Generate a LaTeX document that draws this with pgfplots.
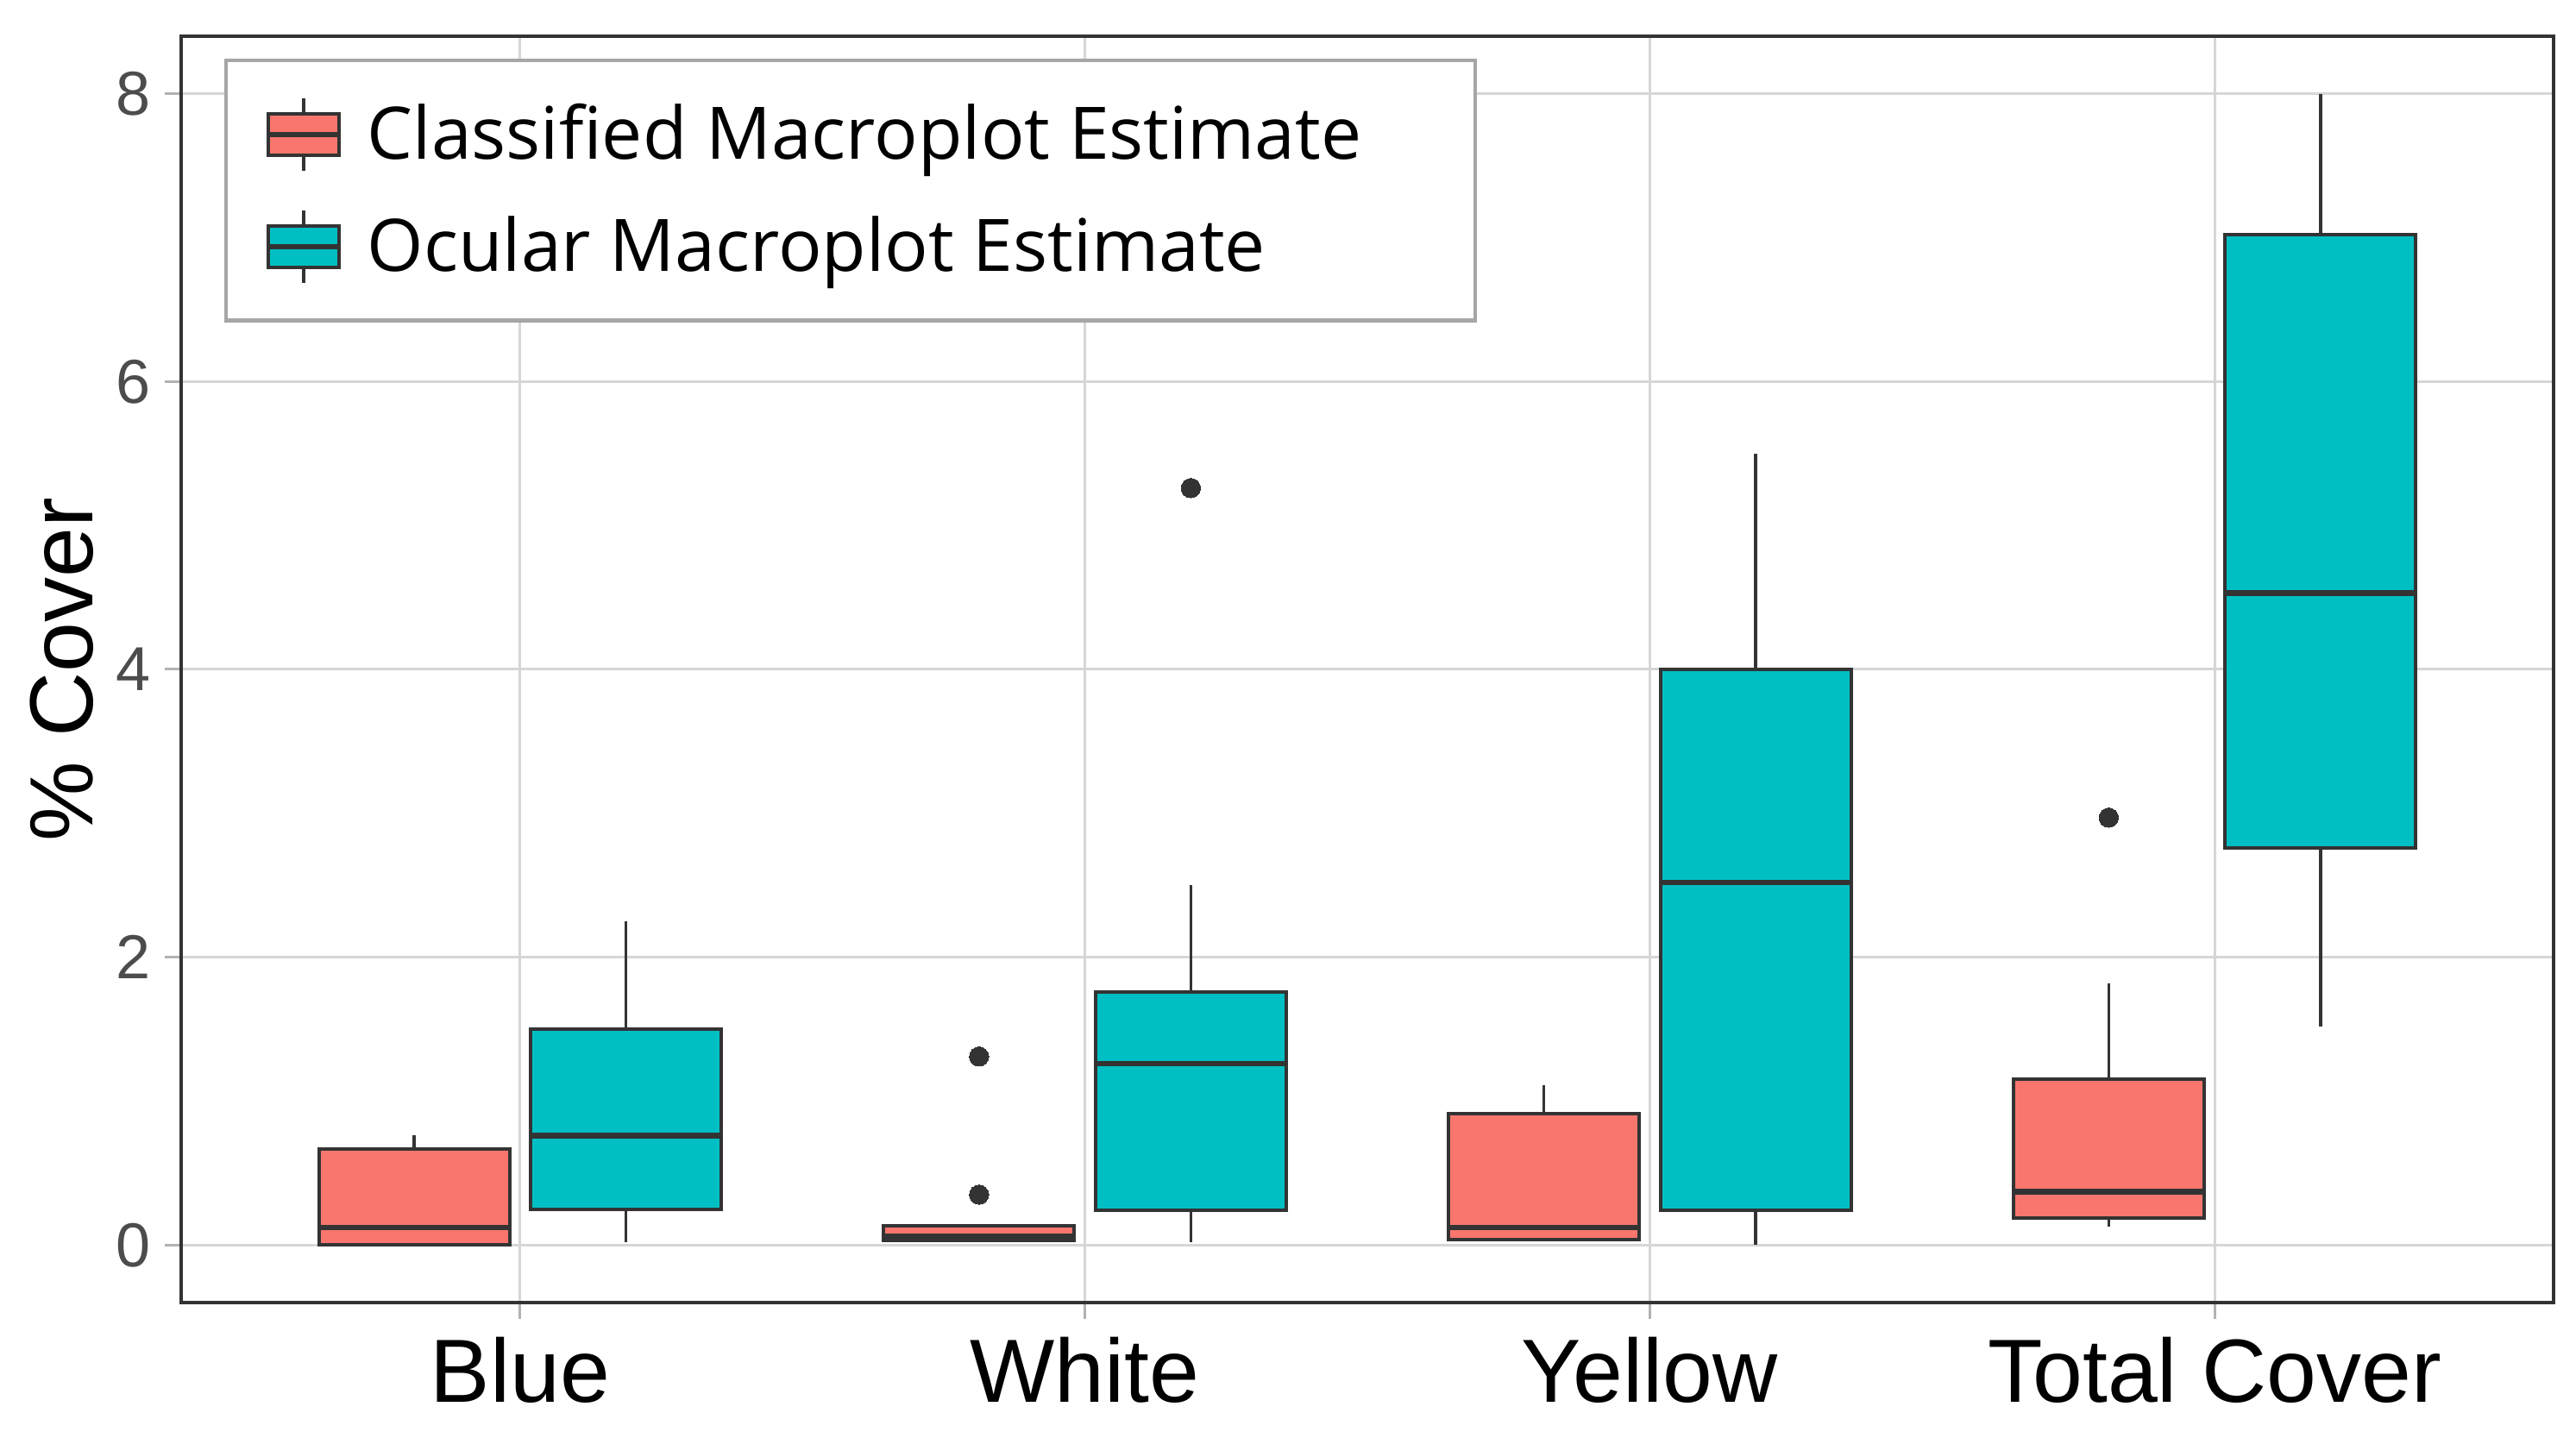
\documentclass[border=0pt]{standalone}
\usepackage{pgfplots}
\pgfplotsset{compat=1.18}
\usepgfplotslibrary{statistics}
\usepackage{fontspec}
\setmainfont{Liberation Sans}
\newfontfamily\legendfont{Open Sans}
\definecolor{cred}{HTML}{F8766D}
\definecolor{cteal}{HTML}{00BFC4}
\definecolor{edge}{HTML}{333333}

\newcommand\keyimg[1]{%
  \draw[edge, line width=0.8pt] (10.25pt,-10.5pt) -- (10.25pt,10.5pt);
  \draw[edge, line width=1pt, fill=#1] (0pt,-6pt) rectangle (20.5pt,6pt);
  \draw[edge, line width=1.4pt] (0pt,0pt) -- (20.5pt,0pt);}

\begin{document}
\begin{tikzpicture}
\begin{axis}[
  name=ax, scale only axis, width=687.5pt, height=367pt,
  xmin=0.4, xmax=4.6, ymin=-0.4, ymax=8.4,
  xtick={1,2,3,4}, xticklabels={Blue,White,Yellow,Total Cover},
  ytick={0,2,4,6,8},
  xtick pos=bottom, ytick pos=left,
  tick align=outside, major tick length=4.75pt,
  tick style={black!30, line width=0.75pt},
  xmajorgrids, ymajorgrids,
  major grid style={black!16, line width=0.75pt},
  axis line style={edge, line width=1pt},
  /pgf/number format/assume math mode=true,
  yticklabel style={font=\fontsize{18}{20}\selectfont, text=black!70, inner sep=0pt, xshift=-4pt},
  xticklabel style={font=\fontsize{26}{30}\selectfont, inner sep=0pt, yshift=-5pt},
  ylabel={\% Cover},
  ylabel style={font=\fontsize{26}{30}\selectfont, at={(axis description cs:-0.0502,0.5)}, anchor=center},
  boxplot/draw direction=y,
  boxplot/box extend=0.3375, boxplot/whisker extend=0,
  boxplot/every whisker/.style={line width=0.85pt},
  boxplot/every median/.style={line width=1.6pt},
  legend style={at={(axis description cs:0.0182,0.9823)}, anchor=north west,
    draw=black!35, line width=1.1pt, fill=white,
    inner xsep=11.5pt, inner ysep=10.5pt, row sep=10.75pt, column sep=7.5pt,
    nodes={inner sep=0pt},
    font=\legendfont\fontsize{21}{25}\selectfont},
  legend cell align=left,
  every axis plot/.append style={draw=edge, line width=1pt, forget plot,
    mark=*, mark size=2.8pt, mark options={fill=edge, draw=edge, line width=0pt}},
]
% Blue
\addplot[boxplot prepared={draw position=0.8125, lower whisker=0, lower quartile=0, median=0.12, upper quartile=0.67, upper whisker=0.76},
  fill=cred] coordinates {};
\addplot[boxplot prepared={draw position=1.1875, lower whisker=0.02, lower quartile=0.25, median=0.76, upper quartile=1.5, upper whisker=2.25},
  fill=cteal] coordinates {};
% White
\addplot[boxplot prepared={draw position=1.8125, lower whisker=0.03, lower quartile=0.03, median=0.06, upper quartile=0.134, upper whisker=0.134},
  fill=cred] coordinates {(0,1.31) (0,0.35)};
\addplot[boxplot prepared={draw position=2.1875, lower whisker=0.02, lower quartile=0.24, median=1.26, upper quartile=1.76, upper whisker=2.5},
  fill=cteal] coordinates {(0,5.26)};
% Yellow
\addplot[boxplot prepared={draw position=2.8125, lower whisker=0.035, lower quartile=0.035, median=0.12, upper quartile=0.91, upper whisker=1.11},
  fill=cred] coordinates {};
\addplot[boxplot prepared={draw position=3.1875, lower whisker=0.0, lower quartile=0.24, median=2.52, upper quartile=4.0, upper whisker=5.5},
  fill=cteal] coordinates {};
% Total Cover
\addplot[boxplot prepared={draw position=3.8125, lower whisker=0.13, lower quartile=0.19, median=0.37, upper quartile=1.15, upper whisker=1.82},
  fill=cred] coordinates {(0,2.97)};
\addplot[boxplot prepared={draw position=4.1875, lower whisker=1.52, lower quartile=2.76, median=4.53, upper quartile=7.02, upper whisker=8.0},
  fill=cteal] coordinates {};
% legend
\addlegendimage{legend image code/.code={\keyimg{cred}}}
\addlegendentry{\makebox[309.5pt][l]{Classified Macroplot Estimate}}
\addlegendimage{legend image code/.code={\keyimg{cteal}}}
\addlegendentry{\makebox[309.5pt][l]{Ocular Macroplot Estimate}}
\end{axis}
\path (ax.south west) ++(-52.5pt,-39.25pt) rectangle ([xshift=6.5pt,yshift=10.5pt]ax.north east);
\end{tikzpicture}
\end{document}
